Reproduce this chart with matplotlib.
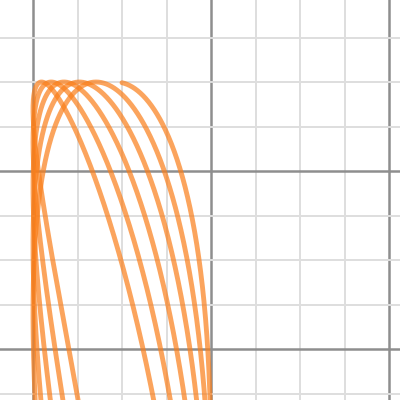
"""Family of orange curves on a Desmos-like grid, 400x400."""

import numpy as np
import matplotlib
matplotlib.use("Agg")
import matplotlib.pyplot as plt
from matplotlib.ticker import MultipleLocator

# curve family: x = 2 - 2cos(phase + t), y = TOP - CURV * t^2
PHASES = [0.44, 0.65, 0.86, 1.07, 1.275, 1.50]
# parameter where each curve begins (None = runs off the bottom on the left too)
START_S = [None, None, None, None, None, np.pi / 2]
TOP = 2.0
CURV = 3.2
RADIUS = 2.0

X_RANGE = (-0.742, 8.247)
Y_RANGE = (-5.146, 3.843)
MINOR_STEP = 1
MAJOR_STEP = 4

ORANGE = "#fa7e19"


def main() -> None:
    fig = plt.figure(figsize=(4, 4), dpi=100)
    ax = fig.add_axes([0, 0, 1, 1])
    ax.set_xlim(*X_RANGE)
    ax.set_ylim(*Y_RANGE)

    ax.xaxis.set_minor_locator(MultipleLocator(MINOR_STEP))
    ax.yaxis.set_minor_locator(MultipleLocator(MINOR_STEP))
    ax.xaxis.set_major_locator(MultipleLocator(MAJOR_STEP))
    ax.yaxis.set_major_locator(MultipleLocator(MAJOR_STEP))
    ax.grid(which="minor", color="#dedede", lw=1.4)
    ax.grid(which="major", color="#8e8e8e", lw=1.8)
    ax.tick_params(which="both", length=0, labelbottom=False, labelleft=False)
    for sp in ax.spines.values():
        sp.set_visible(False)
    ax.set_axisbelow(True)

    for phase, s0 in zip(PHASES, START_S):
        t_lo = -2.0 if s0 is None else s0 - phase
        t = np.linspace(t_lo, 2.0, 800)
        x = RADIUS - RADIUS * np.cos(phase + t)
        y = TOP - CURV * t ** 2
        ax.plot(x, y, color=ORANGE, alpha=0.7, lw=3.5, solid_capstyle="round")

    fig.savefig("out.png", dpi=100)
    plt.close(fig)


if __name__ == "__main__":
    main()
